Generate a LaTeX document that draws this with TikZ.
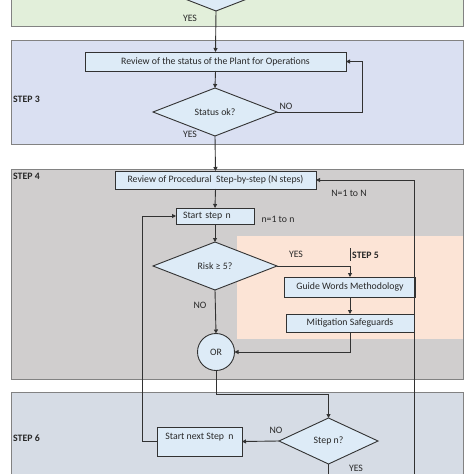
\documentclass[tikz,border=0pt]{standalone}
\usepackage{fontspec}
\setmainfont{Carlito}
\usetikzlibrary{shapes.geometric,arrows.meta}
\definecolor{greenbg}{RGB}{226,239,218}
\definecolor{bluebg}{RGB}{218,224,242}
\definecolor{graybg}{RGB}{208,206,206}
\definecolor{peachbg}{RGB}{252,228,214}
\definecolor{sixbg}{RGB}{214,220,229}
\definecolor{boxfill}{RGB}{221,235,247}
\definecolor{boxline}{RGB}{50,50,50}
\definecolor{panelline}{RGB}{130,130,130}
\definecolor{labeltext}{RGB}{40,40,40}
\begin{document}
\begin{tikzpicture}[x=1pt,y=-1pt,
  font=\fontsize{9.8}{11}\selectfont,
  panel/.style={draw=panelline, line width=1pt},
  box/.style={draw=boxline, fill=boxfill, line width=0.9pt, inner sep=0pt, outer sep=0pt, text=labeltext},
  dec/.style={diamond, draw=boxline, fill=boxfill, line width=0.9pt, inner sep=0pt, outer sep=0pt, minimum width=124pt, minimum height=48pt, text=labeltext},
  conn/.style={draw=boxline, line width=0.9pt},
  arr/.style={conn, -{Triangle[length=4pt,width=4pt]}},
  lbl/.style={inner sep=0pt, text=labeltext},
  steplbl/.style={lbl, font=\fontsize{9.8}{11}\selectfont\bfseries, anchor=west}]
\useasboundingbox (0,0) rectangle (474,474);
\clip (0,0) rectangle (474,474);
\fill[white] (0,0) rectangle (474,474);
% panels
\draw[panel, fill=greenbg] (11,-10) rectangle (463,26);
\draw[panel, fill=bluebg] (11,40) rectangle (463,144);
\draw[panel, fill=graybg] (11,169) rectangle (463,379);
\fill[peachbg] (237,236) rectangle (462.5,339);
\draw[panel, fill=sixbg] (11,392) rectangle (463,490);
% nodes
\node[dec] (d0) at (216,-13) {};
\node[box, minimum width=261pt, minimum height=19pt] (review) at (215.5,61.5) {Review of the status of the Plant for Operations};
\node[dec] (status) at (215,112) {Status ok?};
\node[box, minimum width=201pt, minimum height=18pt] (proc) at (215.5,180) {Review of Procedural\ \ Step-by-step (N steps)};
\node[box, minimum width=78pt, minimum height=16pt, inner xsep=7pt, text width=64pt, align=left] (start) at (215,216) {Start step n};
\node[dec] (risk) at (215,266) {Risk ≥ 5?};
\node[box, minimum width=131pt, minimum height=20pt] (guide) at (350,287) {Guide Words Methodology};
\node[box, minimum width=128pt, minimum height=18pt] (mitig) at (350,323) {Mitigation Safeguards};
\node[circle, draw=boxline, fill=boxfill, line width=0.9pt, inner sep=0pt, outer sep=0pt, minimum size=37pt, text=labeltext] (or) at (216,352) {OR};
\node[dec, minimum width=99pt, minimum height=46pt] (stepn) at (328.5,441) {Step n?};
\node[box, minimum width=85pt, minimum height=29pt, text depth=10pt] (startnext) at (199.5,441.5) {Start next Step\ \ n};
% labels
\node[lbl] (yes0) at (190,18) {YES};
\node[lbl] (no1) at (286,106) {NO};
\node[lbl] (yes1) at (190,134) {YES};
\node[lbl] (nN) at (349,193) {N=1 to N};
\node[lbl] (nn) at (278,219) {n=1 to n};
\node[lbl] (yes2) at (296,254) {YES};
\node[lbl] (no2) at (200,305) {NO};
\node[lbl] (no3) at (276,430) {NO};
\node[lbl] (yes3) at (356,468) {YES};
\node[steplbl] (s3) at (13,99) {STEP 3};
\node[steplbl] (s4) at (13,176) {STEP 4};
\node[steplbl] (s5) at (352,255) {STEP 5};
\node[steplbl] (s6) at (13,438) {STEP 6};
\draw[conn, line width=0.7pt] (350,248) -- (350,261);
% connectors
\draw[arr] (d0.south) -- (review.north);
\draw[arr] (review.south) -- (status.north);
\coordinate (nocorner) at (362,61.5);
\draw[arr] (status.east) -| (nocorner) -- (review.east);
\draw[arr] (status.south) -- (proc.north);
\coordinate (loopN) at (414,180);
\coordinate (loopNbot) at (414,480);
\draw[arr] (loopNbot) -- (loopN) -- (proc.east);
\draw[arr] (proc.south) -- (start.north);
\draw[arr] (start.south) -- (risk.north);
\draw[arr] (risk.east) -| (guide.north);
\draw[arr] (guide.south) -- (mitig.north);
\draw[arr] (mitig.south) |- (or.east);
\draw[arr] (risk.south) -- (or.north);
\coordinate (orjoin) at (328.5,394);
\draw[arr] (or.south) |- (orjoin) -- (stepn.north);
\draw[arr] (stepn.west) -- (startnext.east);
\coordinate (loopn) at (142,441.5);
\draw[arr] (startnext.west) -- (loopn) |- (start.west);
\coordinate (stepnbot) at (328.5,480);
\draw[conn] (stepn.south) -- (stepnbot);
\end{tikzpicture}
\end{document}
